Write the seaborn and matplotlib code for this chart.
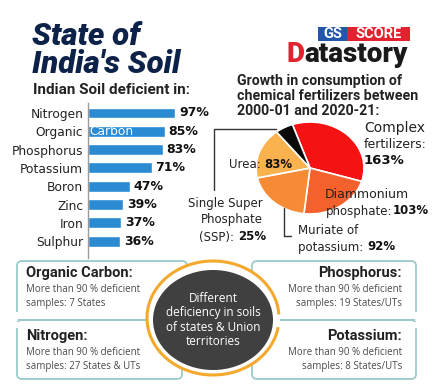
"""
State of India's Soil - infographic recreation
"""

import numpy as np
import matplotlib.pyplot as plt
import matplotlib.patches as mpatches
import seaborn as sns

# ─────────────────────────────────────────────
# Data
# ─────────────────────────────────────────────
nutrients = ['Nitrogen', 'Organic Carbon', 'Phosphorus', 'Potassium',
             'Boron', 'Zinc', 'Iron', 'Sulphur']
deficiency = [97, 85, 83, 71, 47, 39, 37, 36]

fertilizers = ['Complex fertilizers', 'Diammonium phosphate', 'Muriate of potassium',
               'Urea', 'Single Super Phosphate (SSP)']
growth = [163, 103, 92, 83, 25]
pie_colors = ['#f51212', '#f4612c', '#f68b36', '#f9b24d', '#0a0a0a']

state_boxes = ['Organic Carbon:', 'Nitrogen:', 'Phosphorus:', 'Potassium:']
state_counts = ['7 States', '27 States & UTs', '19 States/UTs', '8 States/UTs']

# ─────────────────────────────────────────────
# Figure setup
# ─────────────────────────────────────────────
sns.set_style('white')
plt.rcParams['font.family'] = ['DejaVu Sans']

W, H = 440, 391
fig = plt.figure(figsize=(W / 100, H / 100), dpi=100)
fig.patch.set_facecolor('white')

bg = fig.add_axes([0, 0, 1, 1])
bg.set_xlim(0, W)
bg.set_ylim(H, 0)
bg.axis('off')

NAVY = '#0c2248'
TXT = '#222222'

# ── Title ──
bg.text(32, 50, "State of\nIndia's Soil", fontsize=22.5, fontweight='black', style='italic',
        family='Roboto', color=NAVY, va='center', ha='left', linespacing=0.92)
bg.text(33, 90, 'Indian Soil deficient in:', fontsize=11, fontweight='semibold',
        family='Roboto', color=TXT, va='center', ha='left')

# ── Logo ──
bg.add_patch(mpatches.Rectangle((318, 27), 29, 14, fc='#2358a8', ec='none'))
bg.add_patch(mpatches.Rectangle((347, 27), 63, 14, fc='#e3222f', ec='none'))
bg.text(332.5, 34.5, 'GS', fontsize=10.5, fontweight='bold', family='Roboto', color='white',
        ha='center', va='center')
bg.text(378.5, 34.5, 'SCORE', fontsize=10.5, fontweight='bold', family='Roboto', color='white',
        ha='center', va='center')
d_txt = bg.text(286, 55, 'D', fontsize=20, fontweight='black', family='Roboto',
                color='#e3222f', ha='left', va='center')
bg.annotate('atastory', xy=(1, 0.5), xycoords=d_txt, fontsize=20, fontweight='black',
            family='Roboto', color='#1a1a1a', ha='left', va='center')

# ─────────────────────────────────────────────
# Bar chart — soil deficiency
# ─────────────────────────────────────────────
x0, px_per_pct = 88, 0.9
row_h = 18.3
top_px = 113 - row_h / 2
bot_px = top_px + row_h * len(nutrients)
ax_bar = fig.add_axes([x0 / W, 1 - bot_px / H, 100 * px_per_pct / W, (bot_px - top_px) / H])
sns.barplot(x=deficiency, y=nutrients, orient='h', color='#2a8bd3', width=0.6,
            saturation=1, ax=ax_bar)
ax_bar.set_xlim(0, 100)
ax_bar.set_ylim(len(nutrients) - 0.5, -0.5)
ax_bar.set_xticks([])
ax_bar.set_xlabel('')
ax_bar.set_ylabel('')
for s in ['top', 'right', 'bottom']:
    ax_bar.spines[s].set_visible(False)
ax_bar.spines['left'].set_color('#9a9a9a')
ax_bar.spines['left'].set_linewidth(1)
ax_bar.spines['left'].set_bounds(len(nutrients) - 0.05, -0.55)
ax_bar.patch.set_alpha(0)

tick_labels = [n.split(' ')[0] for n in nutrients]
ax_bar.set_yticks(range(len(nutrients)))
ax_bar.set_yticklabels(tick_labels, fontsize=8.8, color=TXT)
ax_bar.tick_params(axis='y', length=0, pad=3.5)
for i, name in enumerate(nutrients):
    if ' ' in name:
        ax_bar.text(1, i, name.split(' ', 1)[1], color='white', fontsize=8.8,
                    va='center', ha='left')
for i, v in enumerate(deficiency):
    ax_bar.text(v + 4, i, f'{v}%', fontsize=9, fontweight='bold', color='#111111',
                va='center', ha='left', clip_on=False)

# ─────────────────────────────────────────────
# Pie chart — fertilizer growth
# ─────────────────────────────────────────────
bg.text(237, 96, 'Growth in consumption of\nchemical fertilizers between\n2000-01 and 2020-21:',
        fontsize=10.2, fontweight='semibold', family='Roboto', color=TXT,
        ha='left', va='center', linespacing=1.12)

cx, cy, rx, ry = 310, 168, 54, 46
ax_pie = fig.add_axes([(cx - rx) / W, 1 - (cy + ry) / H, 2 * rx / W, 2 * ry / H])
ax_pie.pie(growth, colors=pie_colors, startangle=109, counterclock=False,
           wedgeprops=dict(edgecolor='white', linewidth=1.2))
ax_pie.set_aspect('auto')
ax_pie.set_xlim(-1, 1)
ax_pie.set_ylim(-1, 1)
ax_pie.axis('off')

# overlay for labels drawn over the pie
fg = fig.add_axes([0, 0, 1, 1])
fg.set_xlim(0, W)
fg.set_ylim(H, 0)
fg.axis('off')
fg.patch.set_alpha(0)


def two_part(x, y, normal, bold, size=8.5):
    t = fg.text(x, y, normal, fontsize=size, color=TXT, ha='left', va='center')
    fg.annotate(bold, xy=(1, 0.5), xycoords=t, fontsize=size, fontweight='bold',
                color='#111111', ha='left', va='center')


kw = dict(fontsize=8.5, color=TXT, va='center')
fg.text(364, 128, 'Complex', ha='left', fontsize=10, color=TXT, va='center')
fg.text(364, 145, 'fertilizers:', ha='left', fontsize=9, color=TXT, va='center')
fg.text(364, 160, f'{growth[0]}%', ha='left', fontweight='bold', fontsize=9.5,
        color='#111111', va='center')
fg.text(325, 194, 'Diammonium', ha='left', fontsize=9, color=TXT, va='center')
two_part(326, 211, 'phosphate:', f'{growth[1]}%')
fg.text(298, 230, 'Muriate of', ha='left', **kw)
two_part(298, 247, 'potassium: ', f'{growth[2]}%')
two_part(229, 164, 'Urea: ', f'{growth[3]}%')
fg.text(263, 203, 'Single Super', ha='right', **kw)
fg.text(263, 220, 'Phosphate', ha='right', **kw)
two_part(199, 237, '(SSP): ', f'{growth[4]}%')

# pointer lines
fg.plot([214, 214, 276], [190, 129, 129], color='#333333', lw=1)
fg.plot([284, 284, 291], [208, 236, 236], color='#333333', lw=1)

# ─────────────────────────────────────────────
# Bottom panel — state deficiency boxes
# ─────────────────────────────────────────────
EDGE = '#9ccaca'
boxes = [(17, 261, 170, 59), (17, 320, 165, 59), (252, 261, 164, 59), (252, 320, 164, 59)]
for (bx, by, bw, bh) in boxes:
    fg.add_patch(mpatches.FancyBboxPatch((bx, by), bw, bh,
                                         boxstyle='round,pad=0,rounding_size=5',
                                         fc='none', ec=EDGE, lw=1.3))
# gaps in the side edges
for gx in [17, 416]:
    fg.add_patch(mpatches.Rectangle((gx - 3, 312), 6, 7, fc='white', ec='none', zorder=3))
    fg.add_patch(mpatches.Rectangle((gx - 3, 321.5), 6, 6.5, fc='white', ec='none', zorder=3))
fg.add_patch(mpatches.Rectangle((252, 321.5), 30, 6.5, fc='white', ec='none', zorder=3))
fg.add_patch(mpatches.Rectangle((249, 312), 6, 8, fc='white', ec='none', zorder=3))
fg.add_patch(mpatches.Rectangle((252, 318.5), 28, 3, fc='white', ec='none', zorder=3))

text_pos = [(26, 273, 'left'), (26, 336, 'left'), (402, 273, 'right'), (402, 336, 'right')]
for (tx, ty, ha), head, cnt in zip(text_pos, state_boxes, state_counts):
    fg.text(tx, ty, head, fontsize=10.5, fontweight='bold', family='Roboto',
            color='#222222', ha=ha, va='center', zorder=5)
    fg.text(tx, ty + 23.5, 'More than 90 % deficient\nsamples: ' + cnt, fontsize=7,
            family='Open Sans', color='#4a4a4a', ha=ha, va='center',
            linespacing=1.3, zorder=5)

# centre ring + dark circle
ring_c = (213, 318)
fg.add_patch(mpatches.Ellipse(ring_c, 132, 114, fc='white', ec='none', zorder=4))
fg.add_patch(mpatches.Arc(ring_c, 132, 114, theta1=8, theta2=357,
                          color='#f4a92c', lw=2.2, zorder=5))
fg.add_patch(mpatches.Ellipse((213, 320), 120, 100, fc='#404040', ec='none', zorder=5))
fg.text(213, 320, 'Different\ndeficiency in soils\nof states & Union\nterritories',
        fontsize=8.5, family='Open Sans', color='white', ha='center', va='center',
        linespacing=1.15, zorder=6)

plt.savefig('out.png', dpi=100, facecolor='white')
